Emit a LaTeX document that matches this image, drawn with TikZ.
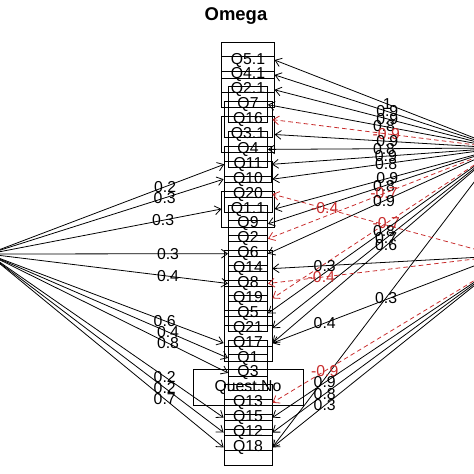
\documentclass[tikz,border=0pt]{standalone}
\usepackage{fontspec}
\setmainfont{Liberation Sans}
\usepackage{xcolor}
\usetikzlibrary{arrows.meta,positioning}
\definecolor{negcolor}{RGB}{200,45,45}

\begin{document}
\begin{tikzpicture}[
    x=0.02cm, y=-0.02cm,
    item/.style={rectangle, draw, line width=0.5pt, inner xsep=0.18cm, inner ysep=0pt, minimum height=0.72cm, font=\fontsize{9}{10}\selectfont},
    load/.style={inner sep=0pt, font=\fontsize{9}{10}\selectfont},
    negload/.style={load, text=negcolor},
    arrow/.style={-{Straight Barb[length=3.4pt,width=5pt]}, line width=0.45pt},
    negarrow/.style={arrow, draw=negcolor, dash pattern=on 2.6pt off 1.8pt}
]
\useasboundingbox (0,0) rectangle (474,474);
\clip (0,0) rectangle (474,474);

\node[font=\fontsize{10.5}{12}\selectfont\bfseries] (title) at (236,16) {Omega};

% items
\node[item] (q5p1) at (248,60) {Q5.1};
\node[item] (q4p1) at (248,74.9) {Q4.1};
\node[item] (q2p1) at (248,89.8) {Q2.1};
\node[item] (q7) at (248,104.7) {Q7};
\node[item] (q16) at (248,119.6) {Q16};
\node[item] (q3p1) at (248,134.5) {Q3.1};
\node[item] (q4) at (248,149.4) {Q4};
\node[item] (q11) at (248,164.3) {Q11};
\node[item] (q10) at (248,179.2) {Q10};
\node[item] (q20) at (248,194.1) {Q20};
\node[item] (q1p1) at (248,209) {Q1.1};
\node[item] (q9) at (248,223.9) {Q9};
\node[item] (q2) at (248,238.8) {Q2};
\node[item] (q6) at (248,253.7) {Q6};
\node[item] (q14) at (248,268.6) {Q14};
\node[item] (q8) at (248,283.5) {Q8};
\node[item] (q19) at (248,298.4) {Q19};
\node[item] (q5) at (248,313.3) {Q5};
\node[item] (q21) at (248,328.2) {Q21};
\node[item] (q17) at (248,343.1) {Q17};
\node[item] (q1) at (248,358) {Q1};
\node[item] (q3) at (248,372.9) {Q3};
\node[item, minimum width=2.2cm] (qno) at (248,387.8) {Quest.No};
\node[item] (q13) at (248,402.7) {Q13};
\node[item] (q15) at (248,417.6) {Q15};
\node[item] (q12) at (248,432.5) {Q12};
\node[item] (q18) at (248,447.4) {Q18};

% factors (outside the plot)
\coordinate (g) at (-12,254);
\coordinate (f1) at (500,148);
\coordinate (f2) at (500,256);
\coordinate (f3) at (500,265);

% general factor
\draw[arrow] (g) -- node[load, pos=0.75] {0.2} (q11.west);
\draw[arrow] (g) -- node[load, pos=0.75] {0.3} (q10.west);
\draw[arrow] (g) -- node[load, pos=0.75] {0.3} (q1p1.west);
\draw[arrow] (g) -- node[load, pos=0.75] {0.3} (q6.west);
\draw[arrow] (g) -- node[load, pos=0.75] {0.4} (q8.west);
\draw[arrow] (g) -- node[load, pos=0.75] {0.6} (q17.west);
\draw[arrow] (g) -- node[load, pos=0.75] {0.4} (q1.west);
\draw[arrow] (g) -- node[load, pos=0.75] {0.8} (q3.west);
\draw[arrow] (g) -- node[load, pos=0.75] {0.2} (q15.west);
\draw[arrow] (g) -- node[load, pos=0.75] {0.2} (q12.west);
\draw[arrow] (g) -- node[load, pos=0.75] {0.7} (q18.west);

% group factor 1
\draw[arrow] (f1) -- node[load, pos=0.5] {1} (q5p1.east);
\draw[arrow] (f1) -- node[load, pos=0.5] {0.9} (q4p1.east);
\draw[arrow] (f1) -- node[load, pos=0.5] {0.9} (q2p1.east);
\draw[arrow] (f1) -- node[load, pos=0.5] {0.8} (q7.east);
\draw[negarrow] (f1) -- node[negload, pos=0.5] {-0.9} (q16.east);
\draw[arrow] (f1) -- node[load, pos=0.5] {0.9} (q3p1.east);
\draw[arrow] (f1) -- node[load, pos=0.5] {0.8} (q4.east);
\draw[arrow] (f1) -- node[load, pos=0.5] {0.9} (q11.east);
\draw[arrow] (f1) -- node[load, pos=0.5] {0.8} (q10.east);
\draw[arrow] (f1) -- node[load, pos=0.5] {0.9} (q1p1.east);
\draw[arrow] (f1) -- node[load, pos=0.5] {0.8} (q9.east);
\draw[negarrow] (f1) -- node[negload, pos=0.5] {-0.7} (q2.east);
\draw[arrow] (f1) -- node[load, pos=0.5] {0.9} (q6.east);
\draw[negarrow] (f1) -- node[negload, pos=0.5] {-0.7} (q19.east);
\draw[arrow] (f1) -- node[load, pos=0.5] {0.8} (q5.east);
\draw[arrow] (f1) -- node[load, pos=0.5] {0.7} (q21.east);
\draw[arrow] (f1) -- node[load, pos=0.5] {0.6} (q17.east);
\draw[arrow] (f1) -- node[load, pos=0.5] {0.3} (q18.east);

% group factor 2
\draw[negarrow] (f2) -- node[negload, pos=0.77] {-0.4} (q20.east);
\draw[arrow] (f2) -- node[load, pos=0.77] {0.3} (q14.east);
\draw[negarrow] (f2) -- node[negload, pos=0.77] {-0.4} (q8.east);
\draw[arrow] (f2) -- node[load, pos=0.77] {0.4} (q17.east);

% group factor 3
\draw[negarrow] (f3) -- node[negload, pos=0.77] {-0.9} (q13.east);
\draw[arrow] (f3) -- node[load, pos=0.77] {0.9} (q15.east);
\draw[arrow] (f3) -- node[load, pos=0.77] {0.8} (q12.east);
\draw[arrow] (f3) -- node[load, pos=0.77] {0.3} (q18.east);

\end{tikzpicture}
\end{document}
